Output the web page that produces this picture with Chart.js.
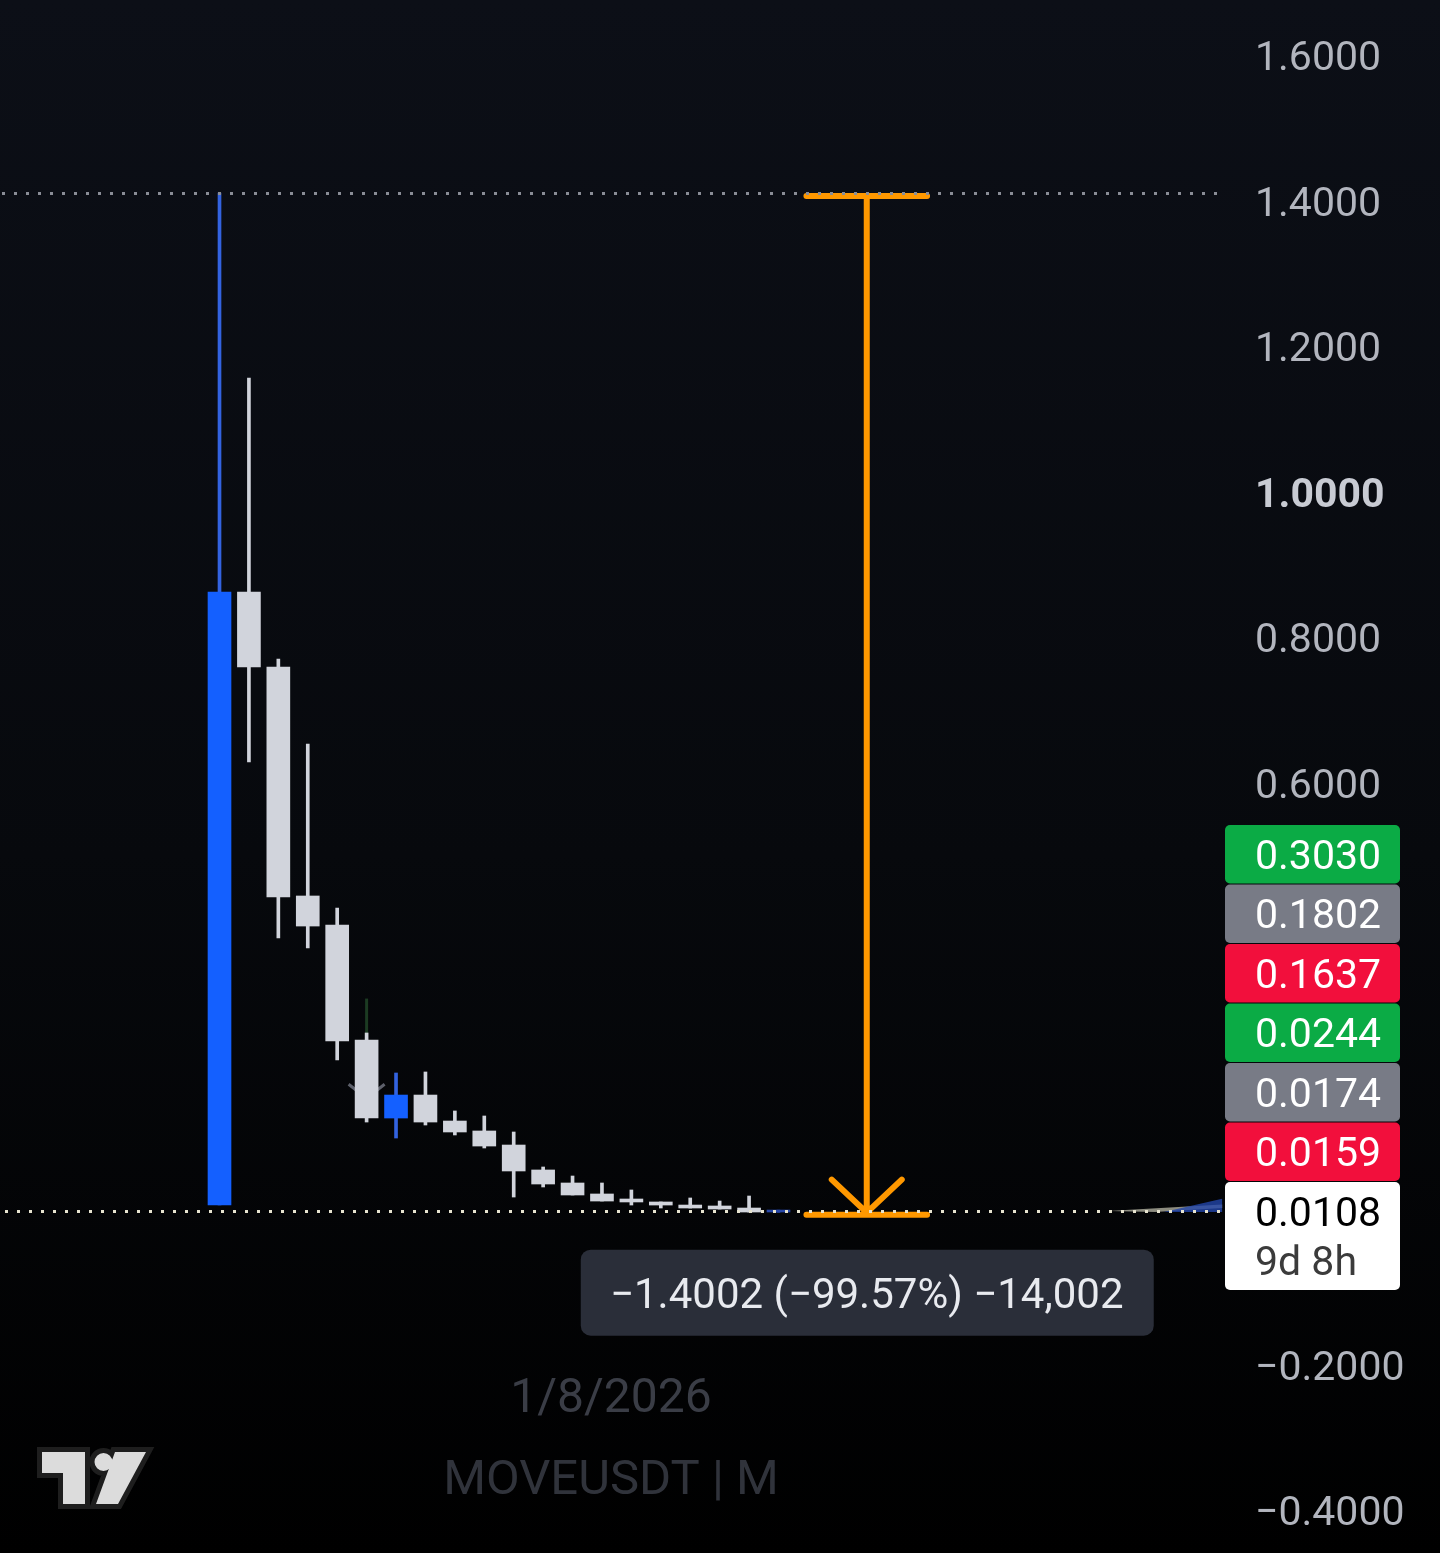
<!DOCTYPE html>
<html><head><meta charset="utf-8">
<script src="https://cdn.jsdelivr.net/npm/chart.js@4"></script>
<style>
html,body{margin:0;padding:0;background:#000;}
#wrap{width:1440px;height:1553px;position:relative;background:linear-gradient(#0c0f17 0%,#07090d 55%,#000 100%);}
canvas{display:block}
</style></head><body>
<div id="wrap"><canvas id="c" width="1440" height="1553"></canvas></div>
<script>
// ---- data (monthly MOVEUSDT candles) ----
const opens  = [0.0192, 0.8619, 0.7588, 0.4440, 0.4041, 0.2460, 0.1388, 0.1704, 0.1347, 0.1210, 0.1017, 0.0674, 0.0495, 0.0344, 0.0275, 0.0234, 0.0192, 0.0179, 0.0151, 0.0096];
const closes = [0.8619, 0.7588, 0.4426, 0.4027, 0.2447, 0.1388, 0.1704, 0.1333, 0.1196, 0.1003, 0.0660, 0.0481, 0.0330, 0.0247, 0.0234, 0.0192, 0.0151, 0.0137, 0.0096, 0.0108];
const highs  = [1.4103, 1.1560, 0.7698, 0.6529, 0.4275, 0.2557, 0.2007, 0.2021, 0.1485, 0.1416, 0.1196, 0.0715, 0.0591, 0.0495, 0.0399, 0.0234, 0.0289, 0.0247, 0.0316, 0.0122];
const lows   = [0.0192, 0.6282, 0.3863, 0.3725, 0.2186, 0.1333, 0.1113, 0.1292, 0.1155, 0.0976, 0.0302, 0.0440, 0.0330, 0.0247, 0.0192, 0.0151, 0.0151, 0.0137, 0.0096, 0.0090];
const candleIdx = opens.map((_, i) => i);

// indicator wick segment on candle 6 (index 5)
const indicatorIdx = 5;
const indicatorFrom = 0.2557;
const indicatorTo = 0.3030;
// sell marker on candle index 5
const markerIdx = 5;
const markerValue = 0.1660;

// y-axis tick labels (0, 0.2, 0.4 hidden behind price labels)
const tickValues = [-0.4, -0.2, 0.6, 0.8, 1.0, 1.2, 1.4, 1.6];

// price lines
const highLine = 1.4103;
const lastPrice = 0.0108;
const countdown = '9d 8h';

// side price labels (stacked on right scale)
const sideLabels = ['0.3030', '0.1802', '0.1637', '0.0244', '0.0174', '0.0159'];
const sideKinds  = ['up', 'neutral', 'down', 'up', 'neutral', 'down'];

// price range measurement
const measureFromIdx = 19.95;
const measureToIdx = 24.05;
const measureHigh = 1.4062;
const measureLow = 0.0060;
const tickSize = 0.0001;

// faint projection wedges at right edge (index, value)
const ghostBeige = [[30.2, 0.0110], [34.08, 0.0200], [34.08, 0.0150], [31.8, 0.0095]];
const ghostBlue  = [[32.1, 0.0096], [34.08, 0.0280], [34.08, 0.0096]];

const dateLabel = '1/8/2026';
const symbolLabel = 'MOVEUSDT | M';

// ---- styles ----
const UP = '#1460ff', UP_WICK = '#3363e0', DOWN = '#d1d4dc', LAST = '#2747a8';
const bodyColors = candleIdx.map(i => i === opens.length - 1 ? LAST : (closes[i] >= opens[i] ? UP : DOWN));
const wickColors = candleIdx.map(i => i === opens.length - 1 ? LAST : (closes[i] >= opens[i] ? UP_WICK : DOWN));
const kindColor = {up: '#0bab45', neutral: '#787b86', down: '#f20f3c'};
const FONT = 'Roboto, "Noto Sans", sans-serif';

function fmt(v) {
  const a = Math.abs(v).toFixed(4);
  return v < -1e-9 ? '\u2212' + a : a;
}

function dotted(ctx, y, x0, x1, color) {
  ctx.fillStyle = color;
  for (let x = x0; x < x1; x += 12) ctx.fillRect(Math.round(x), Math.round(y) - 1, 3, 3);
}

const overlay = {
  id: 'overlay',
  beforeDatasetsDraw(chart) {
    const {ctx, scales: {x, y}} = chart;
    ctx.save();
    // sell marker chevron
    const mx = x.getPixelForValue(markerIdx), my = y.getPixelForValue(markerValue);
    ctx.strokeStyle = '#5d606b'; ctx.lineWidth = 3; ctx.lineCap = 'butt';
    ctx.beginPath(); ctx.moveTo(mx - 18, my - 14); ctx.lineTo(mx, my); ctx.lineTo(mx + 18, my - 14); ctx.stroke();
    // indicator segment
    ctx.strokeStyle = '#1c3b22'; ctx.lineWidth = 3;
    const ix = x.getPixelForValue(indicatorIdx);
    ctx.beginPath(); ctx.moveTo(ix, y.getPixelForValue(indicatorFrom)); ctx.lineTo(ix, y.getPixelForValue(indicatorTo)); ctx.stroke();
    ctx.restore();
  },
  afterDatasetsDraw(chart) {
    const {ctx, chartArea: ca, scales: {x, y}} = chart;
    ctx.save();
    // ghost wedges
    const poly = (pts, col) => {
      ctx.fillStyle = col; ctx.beginPath();
      pts.forEach(([i, v], k) => { const px = x.getPixelForValue(i), py = y.getPixelForValue(v); k ? ctx.lineTo(px, py) : ctx.moveTo(px, py); });
      ctx.closePath(); ctx.fill();
    };
    poly(ghostBeige, 'rgba(200,198,180,0.7)');
    poly(ghostBlue, 'rgba(35,70,170,0.8)');

    // measurement
    const mx0 = x.getPixelForValue(measureFromIdx), mx1 = x.getPixelForValue(measureToIdx);
    const mxc = (mx0 + mx1) / 2;
    const yh = y.getPixelForValue(measureHigh), yl = y.getPixelForValue(measureLow);
    ctx.strokeStyle = '#ff9800'; ctx.lineWidth = 6; ctx.lineCap = 'round'; ctx.lineJoin = 'round';
    ctx.beginPath();
    ctx.moveTo(mx0, yh); ctx.lineTo(mx1, yh);
    ctx.moveTo(mx0, yl); ctx.lineTo(mx1, yl);
    ctx.moveTo(mxc, yh); ctx.lineTo(mxc, yl - 2);
    ctx.moveTo(mxc - 35, yl - 35); ctx.lineTo(mxc, yl - 2); ctx.lineTo(mxc + 35, yl - 35);
    ctx.stroke();

    // dotted price lines
    dotted(ctx, y.getPixelForValue(highLine), 2, ca.right - 6, '#8a8d96');
    dotted(ctx, y.getPixelForValue(lastPrice), 5, ca.right, '#e6e3cf');
    ctx.restore();
  },
  afterDraw(chart) {
    const {ctx, chartArea: ca, scales: {x, y}} = chart;
    ctx.save();
    // side labels
    const bx = ca.right + 3, bw = 175, bh = 58.5, step = 59.5;
    let by = 825;
    ctx.font = '41px ' + FONT; ctx.textBaseline = 'middle'; ctx.textAlign = 'left';
    sideLabels.forEach((t, k) => {
      ctx.fillStyle = kindColor[sideKinds[k]];
      ctx.beginPath(); ctx.roundRect(bx, by, bw, bh, 5); ctx.fill();
      ctx.fillStyle = '#ffffff';
      ctx.fillText(t, ca.right + 33, by + bh / 2 + 4);
      by += step;
    });
    // last price box
    ctx.fillStyle = '#ffffff';
    ctx.beginPath(); ctx.roundRect(bx, by, bw, 108, 5); ctx.fill();
    ctx.fillStyle = '#000000';
    ctx.fillText(lastPrice.toFixed(4), ca.right + 33, by + 34);
    ctx.fillStyle = '#3b3b3b';
    ctx.fillText(countdown, ca.right + 33, by + 83);

    // measurement info box
    const mxc = (x.getPixelForValue(measureFromIdx) + x.getPixelForValue(measureToIdx)) / 2;
    const yl = y.getPixelForValue(measureLow);
    const diff = measureLow - measureHigh;
    const pct = diff / measureHigh * 100;
    const ticks = Math.round(Math.abs(diff) / tickSize);
    const txt = '\u2212' + Math.abs(diff).toFixed(4) + ' (\u2212' + Math.abs(pct).toFixed(2) + '%) \u2212' + ticks.toLocaleString('en-US');
    ctx.fillStyle = '#2a2e39';
    ctx.beginPath(); ctx.roundRect(mxc - 286, yl + 35, 573, 86, 10); ctx.fill();
    ctx.fillStyle = '#e8eaef'; ctx.font = '42px ' + FONT; ctx.textAlign = 'center';
    ctx.fillText(txt, mxc, yl + 83);

    // bottom texts
    const cx = (ca.left + ca.right) / 2;
    ctx.fillStyle = '#3a3d46'; ctx.font = '48px ' + FONT;
    ctx.fillText(dateLabel, cx, 1400);
    ctx.fillStyle = '#30333b'; ctx.font = '49px ' + FONT;
    ctx.fillText(symbolLabel, cx, 1482);

    // logo
    const logo = () => {
      ctx.beginPath();
      ctx.moveTo(42, 1452); ctx.lineTo(85, 1452); ctx.lineTo(85, 1504); ctx.lineTo(63, 1504); ctx.lineTo(63, 1473); ctx.lineTo(42, 1473); ctx.closePath();
      ctx.moveTo(115, 1452); ctx.lineTo(146, 1452); ctx.lineTo(118, 1504); ctx.lineTo(96, 1504); ctx.closePath();
      ctx.moveTo(112.5, 1462); ctx.arc(103.5, 1462, 9, 0, Math.PI * 2);
    };
    ctx.fillStyle = '#1e1e1e'; ctx.strokeStyle = '#1e1e1e'; ctx.lineWidth = 10; ctx.lineJoin = 'miter';
    logo(); ctx.stroke();
    ctx.fillStyle = '#dcdcdc'; logo(); ctx.fill();
    ctx.restore();
  }
};

new Chart(document.getElementById('c'), {
  type: 'bar',
  data: {
    datasets: [
      {label: 'body', data: candleIdx.map(i => ({x: i, y: [opens[i], closes[i]]})), backgroundColor: bodyColors,
       barThickness: 23, minBarLength: 2, grouped: false, order: 0, borderWidth: 0},
      {label: 'wick', data: candleIdx.map(i => ({x: i, y: [lows[i], highs[i]]})), backgroundColor: wickColors,
       barThickness: 3, grouped: false, order: 1, borderWidth: 0}
    ]
  },
  options: {
    responsive: false, animation: false, devicePixelRatio: 1,
    layout: {padding: 0},
    plugins: {legend: {display: false}, tooltip: {enabled: false}},
    scales: {
      x: {type: 'linear', min: -7.461, max: 34.075, display: false, offset: false},
      y: {
        position: 'right', min: -0.4591, max: 1.6756,
        grid: {display: false, drawTicks: false}, border: {display: false},
        afterBuildTicks: s => { s.ticks = tickValues.map(v => ({value: v})); },
        afterFit: s => { s.width = 218; s.paddingTop = 0; s.paddingBottom = 0; },
        ticks: {
          padding: 33, labelOffset: 5,
          font: c => (c.tick && Math.abs(c.tick.value - 1) < 1e-9) ? {family: FONT, size: 41, weight: 'bold'} : {family: FONT, size: 41},
          color: c => (c.tick && Math.abs(c.tick.value - 1) < 1e-9) ? '#c8cbd3' : '#b2b5be',
          callback: v => fmt(v)
        }
      }
    }
  },
  plugins: [overlay]
});
</script>
</body></html>
